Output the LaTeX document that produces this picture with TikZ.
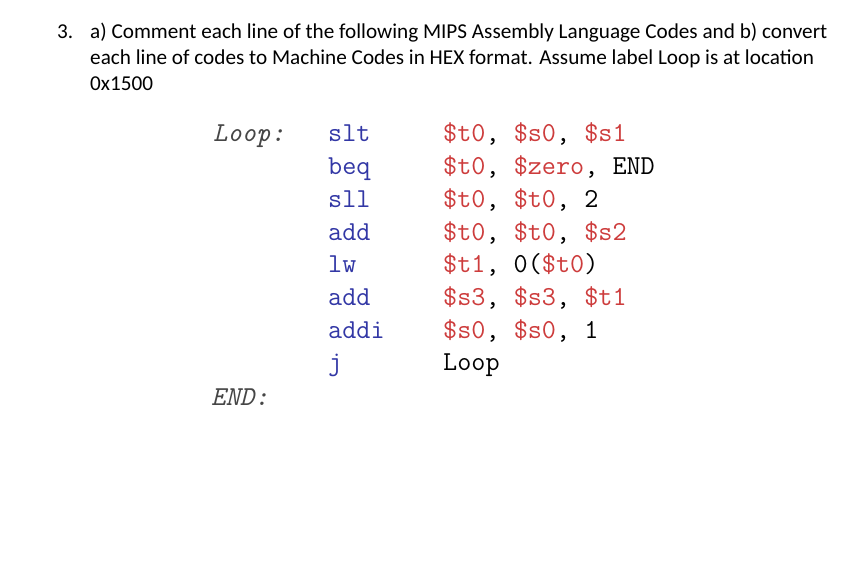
\documentclass[tikz,border=0pt]{standalone}
\usepackage{fontspec}
\setmainfont{Carlito}
\begin{document}
\begin{tikzpicture}[x=1pt,y=1pt,
  ttl/.style={anchor=base west,inner sep=0pt,font=\fontsize{21.2}{22}\selectfont},
  code/.style={anchor=base west,inner sep=0pt,font=\ttfamily\fontsize{27.4}{28}\selectfont},
  mn/.style={code,text=mnblue},
  lbl/.style={code,text=lblgray,font=\ttfamily\itshape\fontsize{27.4}{28}\selectfont}]
\definecolor{mnblue}{RGB}{50,55,165}
\definecolor{rgred}{RGB}{205,60,60}
\definecolor{lblgray}{RGB}{70,70,70}
\useasboundingbox (0,0) rectangle (864,-567);
\node[ttl] (n3) at (57,-39) {3.};
\node[ttl] (t1) at (90,-39) {a) Comment each line of the following MIPS Assembly Language Codes and b) convert};
\node[ttl] (t2) at (90,-65) {each line of codes to Machine Codes in HEX format. Assume label Loop is at location};
\node[ttl] (t3) at (90,-91) {0x1500};
\newcommand\rg[1]{\textcolor{rgred}{#1}}
\node[lbl] (loop) at (213,-142) {Loop:};
\node[lbl] (end) at (211,-405) {END:};
\foreach \m/\o [count=\i] in {slt/{\rg{\$t0}, \rg{\$s0}, \rg{\$s1}},
  beq/{\rg{\$t0}, \rg{\$zero}, END},
  sll/{\rg{\$t0}, \rg{\$t0}, 2},
  add/{\rg{\$t0}, \rg{\$t0}, \rg{\$s2}},
  lw/{\rg{\$t1}, 0(\rg{\$t0})},
  add/{\rg{\$s3}, \rg{\$s3}, \rg{\$t1}},
  addi/{\rg{\$s0}, \rg{\$s0}, 1},
  j/{Loop}}{
  \node[mn] (m\i) at (328,{-142-32.7*(\i-1)}) {\m};
  \node[code] (o\i) at (443,{-142-32.7*(\i-1)}) {\o};
}
\end{tikzpicture}
\end{document}
